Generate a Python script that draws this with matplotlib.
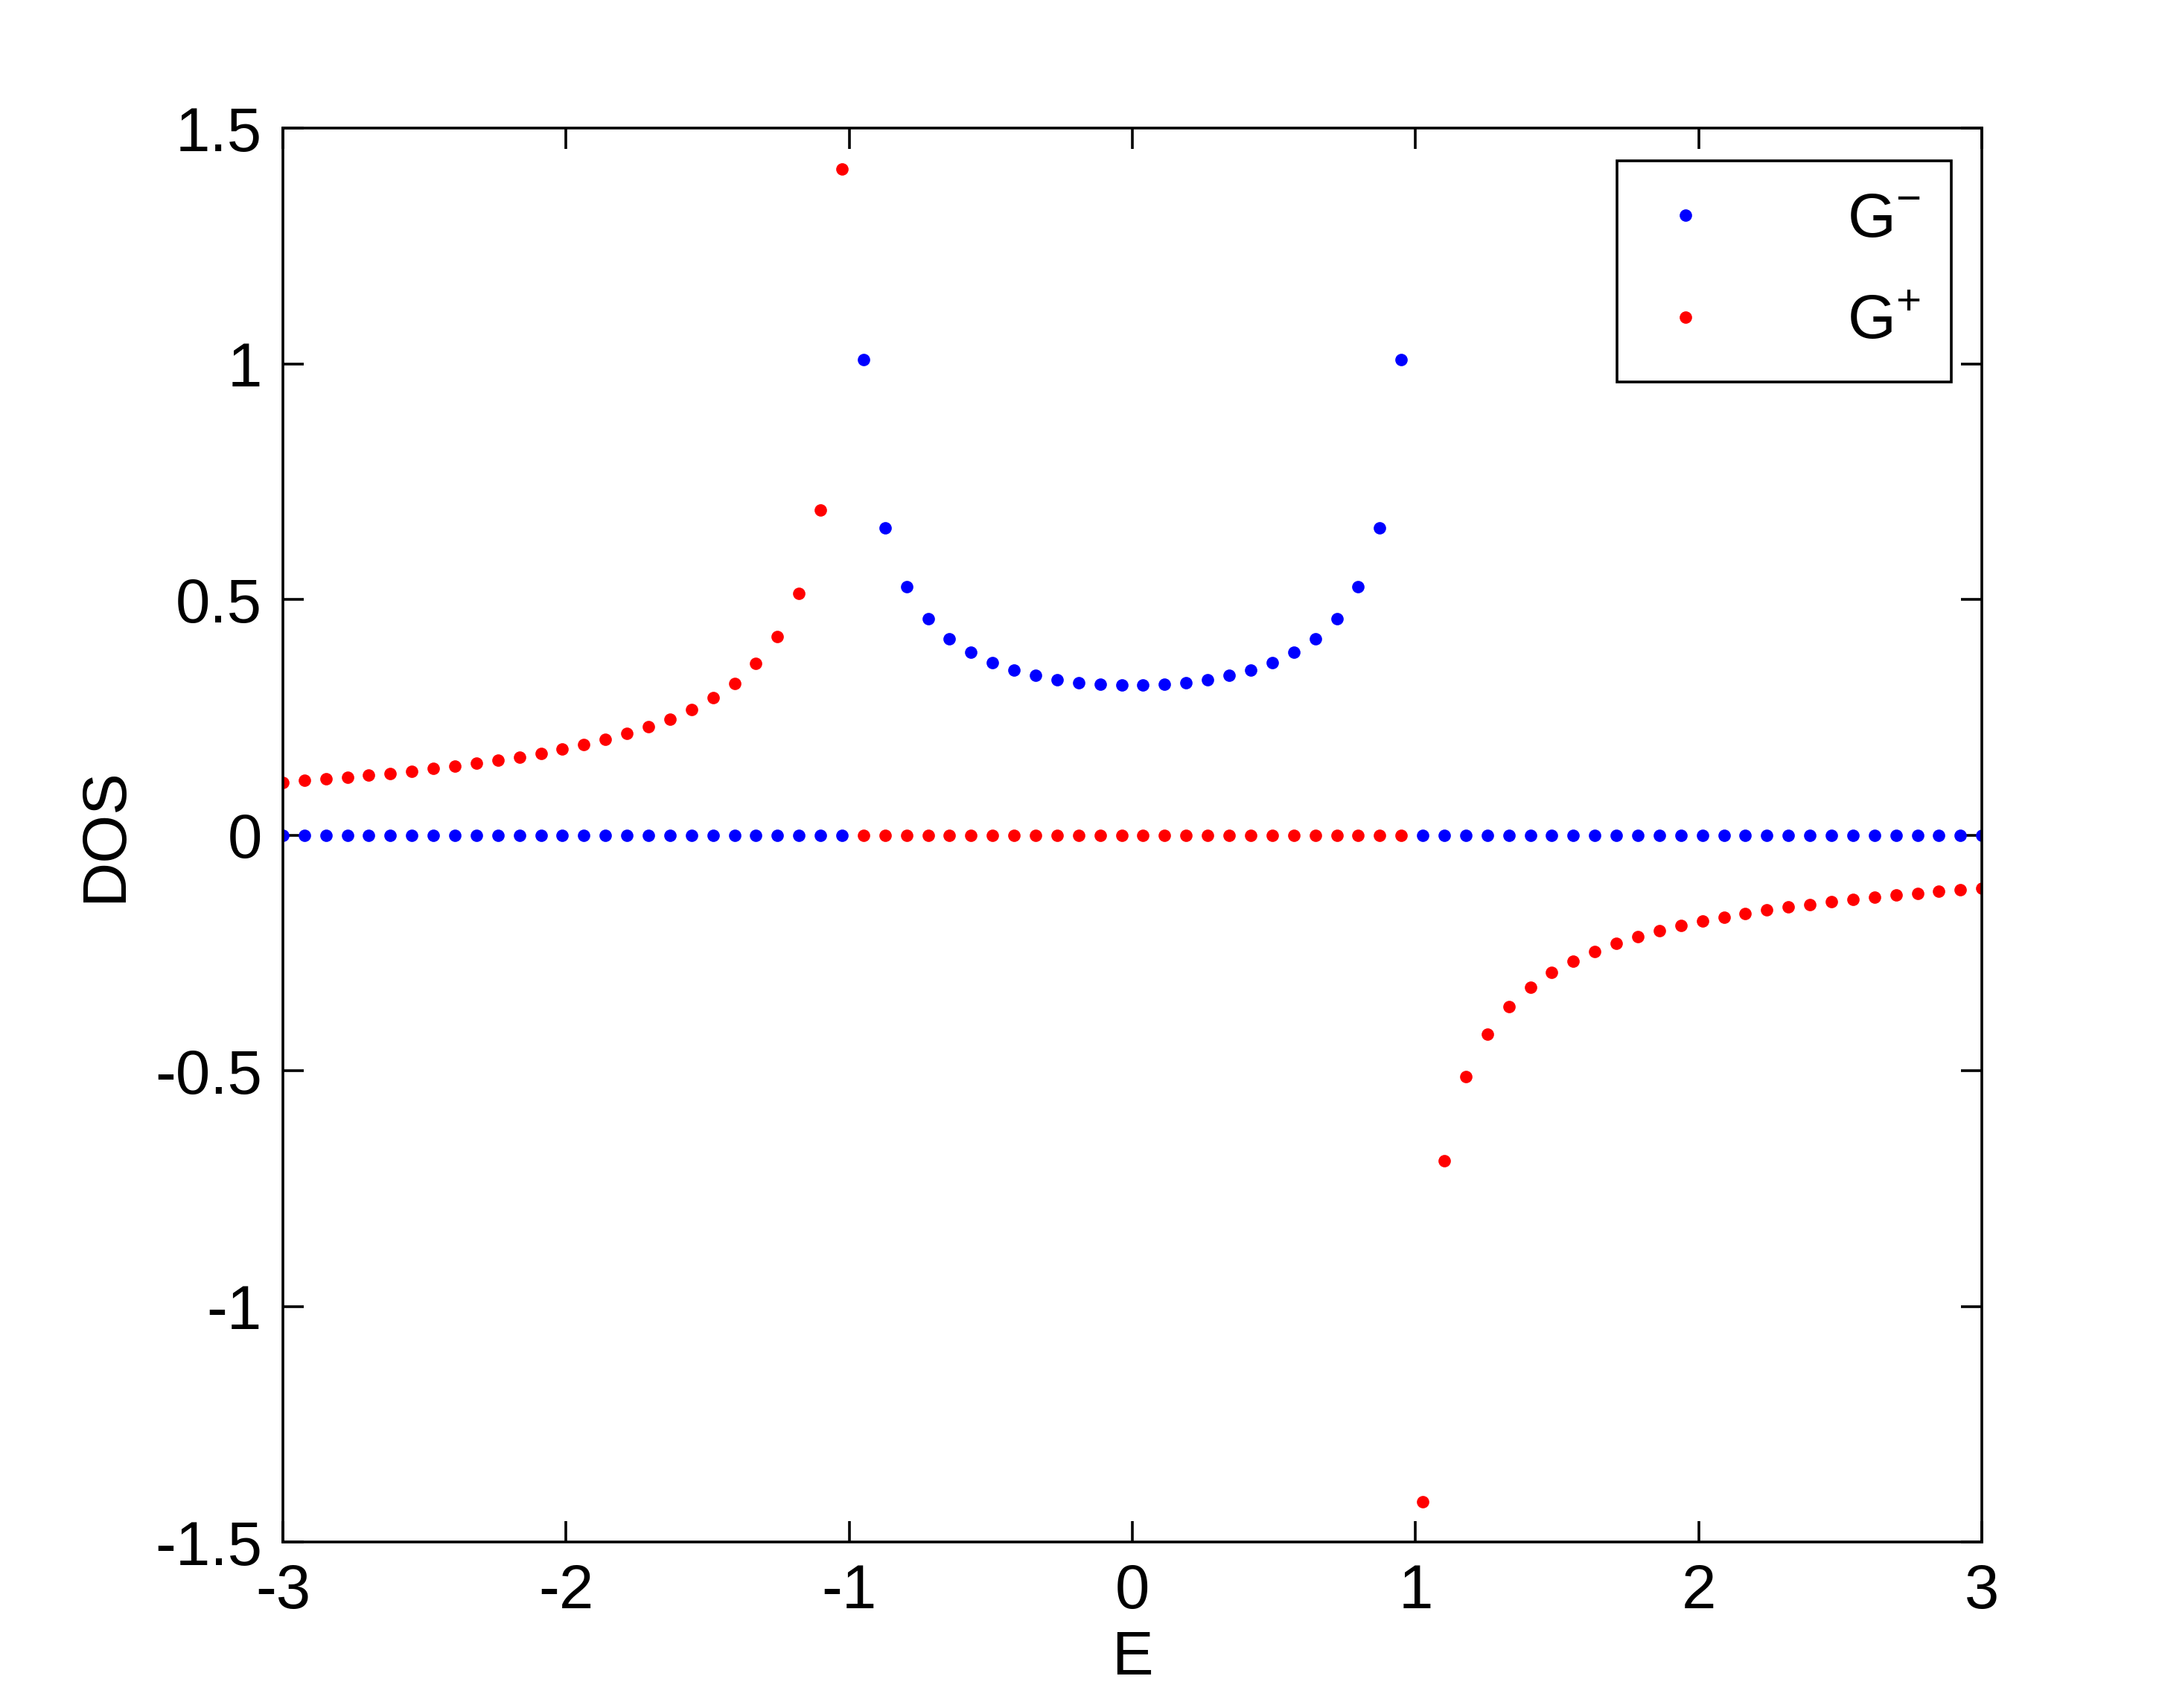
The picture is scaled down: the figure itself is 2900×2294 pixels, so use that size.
import numpy as np
import matplotlib
matplotlib.use("Agg")
import matplotlib.pyplot as plt

plt.rcParams['font.family'] = ['Liberation Sans', 'DejaVu Sans']
plt.rcParams['mathtext.fontset'] = 'custom'
plt.rcParams['mathtext.rm'] = 'Liberation Sans'

E = np.linspace(-3, 3, 80)
red_left = [0.1125, 0.1158, 0.1194, 0.1231, 0.1271, 0.1314, 0.1361, 0.1411, 0.1465, 0.1524,
            0.1588, 0.1658, 0.1736, 0.1822, 0.1919, 0.2028, 0.2153, 0.2297, 0.2466, 0.2668,
            0.2915, 0.3225, 0.3637, 0.4216, 0.5128, 0.690, 1.414]
blue_mid_left = [1.0096, 0.6527, 0.527, 0.460, 0.417, 0.3874, 0.3661, 0.3504, 0.3387, 0.3302,
                 0.3242, 0.3204, 0.3185]

g_minus = [0.0] * 27 + blue_mid_left + blue_mid_left[::-1] + [0.0] * 27
g_plus = red_left + [0.0] * 26 + [-v for v in red_left[::-1]]

fig = plt.figure(figsize=(14.5, 11.47), dpi=200)
ax = fig.add_axes([0.131, 0.097, 0.787, 0.828])
ax.plot(E, g_minus, 'o', color='#0000ff', markersize=6, markeredgewidth=0, label='G$^{-}$')
ax.plot(E, g_plus, 'o', color='#ff0000', markersize=6, markeredgewidth=0, label='G$^{+}$')
ax.set_xlim(-3, 3)
ax.set_ylim(-1.5, 1.5)
ax.set_xticks([-3, -2, -1, 0, 1, 2, 3])
ax.set_xticklabels(['-3', '-2', '-1', '0', '1', '2', '3'])
ax.set_yticks([-1.5, -1, -0.5, 0, 0.5, 1, 1.5])
ax.set_yticklabels(['-1.5', '-1', '-0.5', '0', '0.5', '1', '1.5'])
ax.tick_params(direction='in', top=True, right=True, labelsize=30, length=10, width=1.3, pad=10)
for s in ax.spines.values():
    s.set_linewidth(1.3)
ax.set_xlabel('E', fontsize=30, labelpad=4)
ax.set_ylabel('DOS', fontsize=30, labelpad=10)
leg = ax.legend(loc='upper right', bbox_to_anchor=(0.982, 0.977), fontsize=30, fancybox=False,
                edgecolor='black', framealpha=1, handlelength=1.2, handletextpad=2.0,
                borderpad=0.5, labelspacing=0.7, borderaxespad=0, markerscale=1.0)
leg.get_frame().set_linewidth(1.3)
fig.savefig('out.png', dpi=200)
